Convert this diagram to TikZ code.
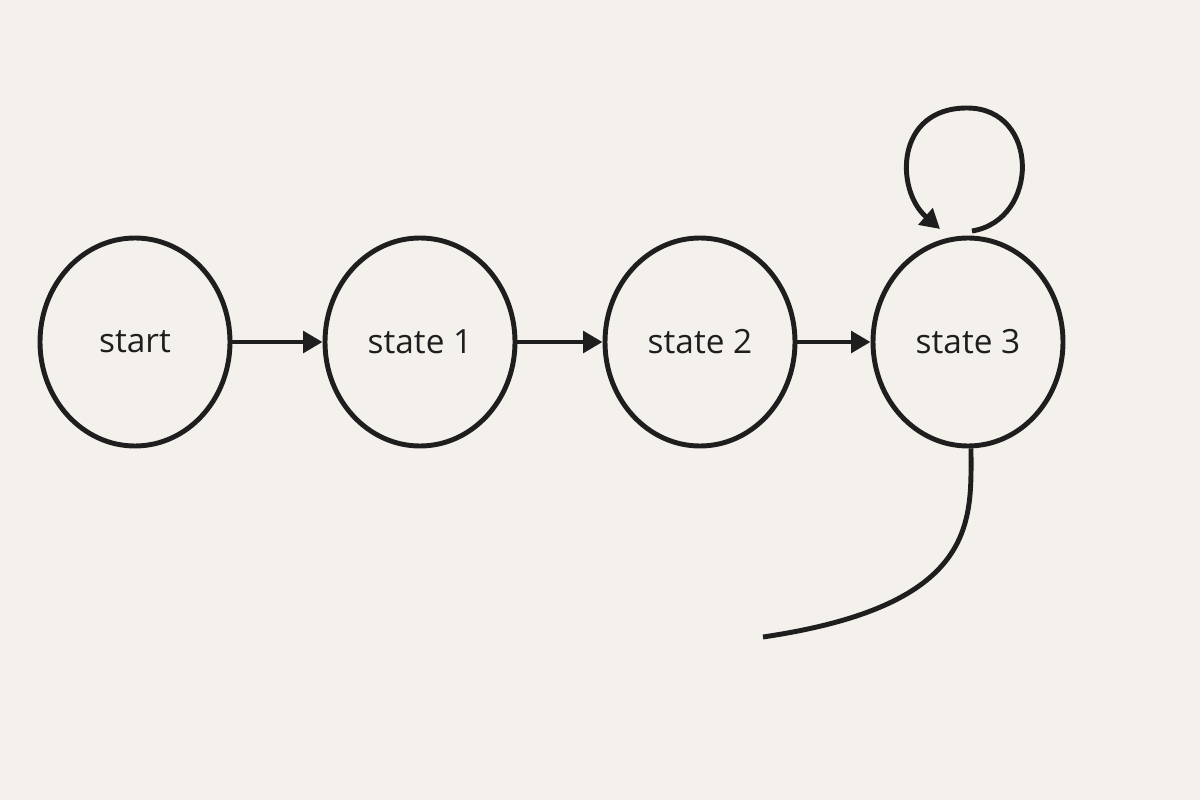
\documentclass[tikz,border=0pt]{standalone}
\usepackage{fontspec}
\setmainfont{Open Sans}
\usetikzlibrary{arrows.meta,shapes.geometric}
\definecolor{bg}{HTML}{F4F1EC}
\definecolor{ink}{HTML}{1E1E1E}
\begin{document}
\begin{tikzpicture}[x=0.02cm,y=-0.02cm,
  st/.style={draw=ink,line width=2.8pt,ellipse,minimum width=190*0.02cm,minimum height=208*0.02cm,inner sep=0pt,font=\fontsize{19}{22}\selectfont,text=ink},
  edge/.style={draw=ink,line width=2.8pt,-{Triangle[length=11pt,width=12pt]}}]
\fill[bg] (0,0) rectangle (1200,800);
\useasboundingbox (0,0) rectangle (1200,800);
\node[st] (s0) at (135,342) {start};
\node[st] (s1) at (420,342) {state 1};
\node[st] (s2) at (700,342) {state 2};
\node[st] (s3) at (968,342) {state 3};
\draw[edge] (s0) -- (s1);
\draw[edge] (s1) -- (s2);
\draw[edge] (s2) -- (s3);
\coordinate (la) at (972,231);
\coordinate (lb) at (940,229);
\draw[edge] (la) .. controls (1040,220) and (1040,108) .. (967,108) .. controls (895,108) and (895,190) .. (lb);
\coordinate (tailend) at (763,637);
\draw[draw=ink,line width=2.8pt] (s3.south) ++(3,0) .. controls (971,520) and (980,605) .. (tailend);
\end{tikzpicture}
\end{document}
